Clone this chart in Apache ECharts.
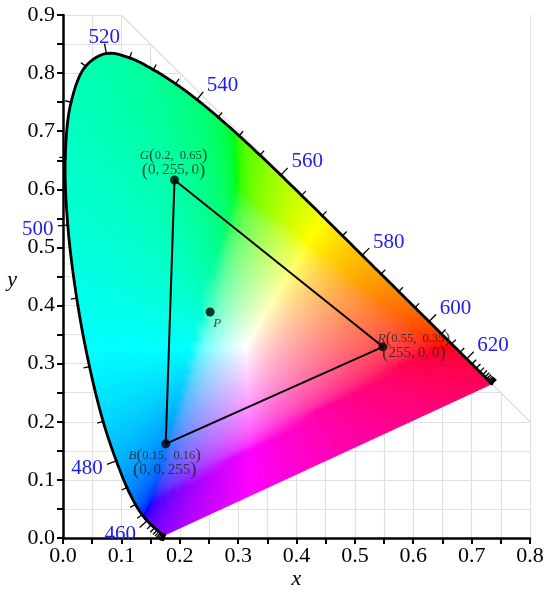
<!DOCTYPE html>
<html>
<head>
<meta charset="UTF-8">
<title>CIE 1931 xy</title>
<script src="https://cdn.jsdelivr.net/npm/echarts@6/dist/echarts.min.js"></script>
<style>
html, body { margin: 0; padding: 0; background: #fff; }
#main { width: 550px; height: 594px; }
</style>
</head>
<body>
<div id="main"></div>
<script>
// spectral locus (CIE 1931, 2 deg), every 5 nm
var waveLen = [380,385,390,395,400,405,410,415,420,425,430,435,440,445,450,455,460,465,470,475,
	480,485,490,495,500,505,510,515,520,525,530,535,540,545,550,555,560,565,570,575,
	580,585,590,595,600,605,610,615,620,625,630,635,640,645,650,655,660,665,670,675,
	680,685,690,695,700];
var locusX = [0.1741,0.1740,0.1738,0.1736,0.1733,0.1730,0.1726,0.1721,0.1714,0.1703,0.1689,0.1669,0.1644,0.1611,0.1566,0.1510,0.1440,0.1355,0.1241,0.1096,
	0.0913,0.0687,0.0454,0.0235,0.0082,0.0039,0.0139,0.0389,0.0743,0.1142,0.1547,0.1929,0.2296,0.2658,0.3016,0.3373,0.3731,0.4087,0.4441,0.4788,
	0.5125,0.5448,0.5752,0.6029,0.6270,0.6482,0.6658,0.6801,0.6915,0.7006,0.7079,0.7140,0.7190,0.7230,0.7260,0.7283,0.7300,0.7311,0.7320,0.7327,
	0.7334,0.7340,0.7344,0.7346,0.7347];
var locusY = [0.0050,0.0050,0.0049,0.0049,0.0048,0.0048,0.0048,0.0048,0.0051,0.0058,0.0069,0.0086,0.0109,0.0138,0.0177,0.0227,0.0297,0.0399,0.0578,0.0868,
	0.1327,0.2007,0.2950,0.4127,0.5384,0.6548,0.7502,0.8120,0.8338,0.8262,0.8059,0.7816,0.7543,0.7243,0.6923,0.6589,0.6245,0.5896,0.5547,0.5202,
	0.4866,0.4544,0.4242,0.3965,0.3725,0.3514,0.3340,0.3197,0.3083,0.2993,0.2920,0.2859,0.2809,0.2770,0.2740,0.2717,0.2700,0.2689,0.2680,0.2673,
	0.2666,0.2660,0.2656,0.2654,0.2653];
var waveLabels = [460, 480, 500, 520, 540, 560, 580, 600, 620];

// marked points as drawn: G, R, B, P
var markLetter = ['G', 'R', 'B', 'P'];
var markX = [0.191, 0.548, 0.176, 0.252];
var markY = [0.616, 0.329, 0.162, 0.389];
var markCoordText = ['0.2,  0.65', '0.55,  0.35', '0.15,  0.16', ''];
var markRgbText = ['0,\u2009255,\u20090', '255,\u20090,\u20090', '0,\u20090,\u2009255', ''];
var markOffset = [[-1, -17], [31, -1], [-1, 19], [7, 12]];

var whitePt = [0.3127, 0.3290];
var xMax = 0.8, yMax = 0.9;

// chromaticity -> display colour (white added when out of gamut)
function xyColor(x, y) {
	var X = x / y, Z = (1 - x - y) / y;
	var c = [3.2406 * X - 1.5372 - 0.4986 * Z,
		-0.9689 * X + 1.8758 + 0.0415 * Z,
		0.0557 * X - 0.2040 + 1.0570 * Z];
	var mn = Math.min(c[0], c[1], c[2]);
	if (mn < 0) c = c.map(function (v) { return v - mn; });
	var mx = Math.max(c[0], c[1], c[2]);
	return 'rgb(' + c.map(function (v) {
		v = v / mx;
		v = v <= 0.0031308 ? 12.92 * v : 1.055 * Math.pow(v, 1 / 2.4) - 0.055;
		return Math.round(255 * Math.max(0, Math.min(1, v)));
	}).join(',') + ')';
}

function lerp(a, b, t) { return [a[0] + t * (b[0] - a[0]), a[1] + t * (b[1] - a[1])]; }
function dist(a, b) { return Math.hypot(a[0] - b[0], a[1] - b[1]); }
function pt(i) { return [locusX[i], locusY[i]]; }

// first locus point before/after i that is not on top of it
function neighbour(i, dir) {
	var p = pt(i);
	for (var j = i + dir; j >= 0 && j < waveLen.length; j += dir) {
		if (dist(pt(j), p) > 0.001) return pt(j);
	}
	return null;
}

// points on the smooth locus between i and i+1 (centripetal Catmull-Rom)
function curvePts(i, steps) {
	var p1 = pt(i), p2 = pt(i + 1), out = [], s;
	if (dist(p1, p2) < 0.001) {
		for (s = 0; s <= steps; s++) out.push(lerp(p1, p2, s / steps));
		return out;
	}
	var p0 = neighbour(i, -1) || [2 * p1[0] - p2[0], 2 * p1[1] - p2[1]];
	var p3 = neighbour(i + 1, 1) || [2 * p2[0] - p1[0], 2 * p2[1] - p1[1]];
	var t0 = 0, t1 = t0 + Math.sqrt(dist(p0, p1)), t2 = t1 + Math.sqrt(dist(p1, p2)), t3 = t2 + Math.sqrt(dist(p2, p3));
	var mix = function (a, b, ta, tb, t) { return lerp(a, b, (t - ta) / (tb - ta)); };
	for (s = 0; s <= steps; s++) {
		var t = t1 + (t2 - t1) * s / steps;
		var a1 = mix(p0, p1, t0, t1, t), a2 = mix(p1, p2, t1, t2, t), a3 = mix(p2, p3, t2, t3, t);
		var b1 = mix(a1, a2, t0, t2, t), b2 = mix(a2, a3, t1, t3, t);
		out.push(mix(b1, b2, t1, t2, t));
	}
	return out;
}

function edgePts(i, api) {
	var n = waveLen.length;
	var a = pt(i), b = pt((i + 1) % n);
	var steps = Math.max(1, Math.ceil(dist(api.coord(a), api.coord(b)) / 4));
	if (i === n - 1) {
		var out = [];
		for (var s = 0; s <= steps; s++) out.push(lerp(a, b, s / steps));
		return out;
	}
	return curvePts(i, steps);
}

var chart = echarts.init(document.getElementById('main'));

// fan of triangles from the white point to each locus edge
function renderFill(params, api) {
	var pts = edgePts(params.dataIndex, api);
	var w = api.coord(whitePt);
	var children = [];
	for (var s = 0; s < pts.length - 1; s++) {
		var q0 = pts[s], q1 = pts[s + 1], qm = lerp(q0, q1, 0.5);
		var cm = api.coord(qm);
		var stops = [];
		for (var t = 0; t <= 20; t++) {
			var p = lerp(whitePt, qm, t / 20);
			stops.push({ offset: t / 20, color: xyColor(p[0], p[1]) });
		}
		var grad = new echarts.graphic.LinearGradient(w[0], w[1], cm[0], cm[1], stops, true);
		children.push({
			type: 'polygon',
			shape: { points: [w, api.coord(q0), api.coord(q1)] },
			style: { fill: grad, stroke: grad, lineWidth: 0.9 }
		});
	}
	return { type: 'group', children: children };
}

// black outline of the spectral part
function renderOutline(params, api) {
	if (params.dataIndex >= waveLen.length - 1) return null;
	var pts = edgePts(params.dataIndex, api).map(function (p) { return api.coord(p); });
	return {
		type: 'polyline',
		shape: { points: pts },
		style: { stroke: '#000', lineWidth: 2.8, fill: null, lineCap: 'round', lineJoin: 'round' }
	};
}

// small ticks normal to the locus, with wavelength labels
function renderTicks(params, api) {
	var i = params.dataIndex, n = waveLen.length;
	var pix = function (j) { return api.coord(pt(j)); };
	var p = pix(i), pf = p, pb = p, j, q;
	for (j = i + 1; j < n; j++) { q = pix(j); if (dist(q, p) > 2) { pf = q; break; } }
	for (j = i - 1; j >= 0; j--) { q = pix(j); if (dist(q, p) > 2) { pb = q; break; } }
	var tx = pf[0] - pb[0], ty = pf[1] - pb[1], tl = Math.hypot(tx, ty) || 1;
	var nx = ty / tl, ny = -tx / tl;
	var lab = waveLabels.indexOf(waveLen[i]) >= 0;
	var L = lab ? 10 : 6;
	var e = [p[0] + nx * L, p[1] + ny * L];
	var children = [{
		type: 'line',
		shape: { x1: p[0], y1: p[1], x2: e[0], y2: e[1] },
		style: { stroke: '#000', lineWidth: 1.3 }
	}];
	if (lab) {
		var fx = Math.max(0, Math.min(1, (Math.abs(nx) - 0.25) / 0.35));
		var fy = Math.max(0, Math.min(1, (Math.abs(ny) - 0.25) / 0.35));
		children.push({
			type: 'text',
			style: {
				text: String(waveLen[i]),
				x: e[0] + nx * 2 + Math.sign(nx) * fx * 18,
				y: e[1] + ny * 2 + (ny < 0 ? -7.5 : 2.5) * fy + 3,
				align: 'center', verticalAlign: 'middle',
				fill: '#2020e8', font: '21px "Liberation Serif"'
			}
		});
	}
	return { type: 'group', children: children };
}

// white cover for x + y > 1, with its grey edge
function renderMask(params, api) {
	var a = api.coord([1 - yMax, yMax]), b = api.coord([xMax, yMax]), c = api.coord([xMax, 1 - xMax]);
	return {
		type: 'group', children: [
			{ type: 'polygon', shape: { points: [a, b, c] }, style: { fill: '#fff' } },
			{ type: 'line', shape: { x1: a[0], y1: a[1], x2: c[0], y2: c[1] }, style: { stroke: '#e0e0e0', lineWidth: 1.2 } }
		]
	};
}

var locusPts = waveLen.map(function (w, i) { return [locusX[i], locusY[i]]; });
var triPts = [0, 1, 2, 0].map(function (i) { return [markX[i], markY[i]]; });

var richStyle = {
	i: { fontFamily: 'Liberation Serif', fontStyle: 'italic', fontSize: 13, color: '#222', lineHeight: 15 },
	n: { fontFamily: 'Liberation Serif', fontSize: 12.5, color: '#222', lineHeight: 15 },
	b: { fontFamily: 'Liberation Serif', fontSize: 17, color: '#222', lineHeight: 15 },
	m: { fontFamily: 'Liberation Serif', fontSize: 15, color: '#222', lineHeight: 15 },
	c: { fontFamily: 'Liberation Serif', fontSize: 19, color: '#222', lineHeight: 15 }
};
var markData = markLetter.map(function (m, i) {
	var txt = markCoordText[i]
		? '{i|' + m + '}{b|(}{n|' + markCoordText[i] + '}{b|)}\n{c|(}{m|' + markRgbText[i] + '}{c|)}'
		: '{i|' + m + '}';
	return {
		value: [markX[i], markY[i]],
		label: { show: true, position: 'inside', offset: markOffset[i], formatter: txt, rich: richStyle }
	};
});

var axisCommon = {
	type: 'value', min: 0,
	interval: 0.1,
	axisLine: { show: true, onZero: false, lineStyle: { color: '#000', width: 2.5 } },
	axisTick: { show: true, length: 6, lineStyle: { color: '#000', width: 2 } },
	minorTick: { show: true, splitNumber: 2, length: 6, lineStyle: { color: '#000', width: 2 } },
	splitLine: { show: true, lineStyle: { color: '#e0e0e0', width: 1.2 } },
	minorSplitLine: { show: true, lineStyle: { color: '#e0e0e0', width: 1.2 } },
	axisLabel: {
		color: '#000', fontFamily: 'Liberation Serif', fontSize: 22,
		formatter: function (v) { return v.toFixed(1); }
	},
	nameLocation: 'middle',
	nameMoveOverlap: false,
	nameTextStyle: { fontFamily: 'Liberation Serif', fontStyle: 'italic', fontSize: 22, color: '#000' }
};

var option = {
	animation: false,
	backgroundColor: '#fff',
	grid: { left: 63, right: 20, top: 15, bottom: 56, containLabel: false, outerBoundsMode: 'none' },
	xAxis: Object.assign({}, axisCommon, {
		max: xMax, name: 'x', nameGap: 30,
		axisLabel: Object.assign({}, axisCommon.axisLabel, { margin: 7 })
	}),
	yAxis: Object.assign({}, axisCommon, {
		max: yMax, name: '\ny', nameGap: 46, nameRotate: 0,
		nameTextStyle: Object.assign({}, axisCommon.nameTextStyle, { lineHeight: 8 }),
		axisLabel: Object.assign({}, axisCommon.axisLabel, { margin: 8 })
	}),
	series: [
		{ type: 'custom', z: 1, silent: true, renderItem: renderMask, data: [[0, 0]] },
		{ type: 'custom', z: 2, silent: true, renderItem: renderFill, data: locusPts },
		{ type: 'custom', z: 3, silent: true, renderItem: renderOutline, data: locusPts },
		{ type: 'custom', z: 4, silent: true, renderItem: renderTicks, data: locusPts },
		{
			type: 'line', z: 5, data: triPts, showSymbol: false, silent: true,
			lineStyle: { color: '#000', width: 2 }
		},
		{
			type: 'scatter', z: 6, data: markData, symbolSize: 9, silent: true,
			itemStyle: { color: '#000' }
		}
	]
};
chart.setOption(option);
</script>
</body>
</html>
